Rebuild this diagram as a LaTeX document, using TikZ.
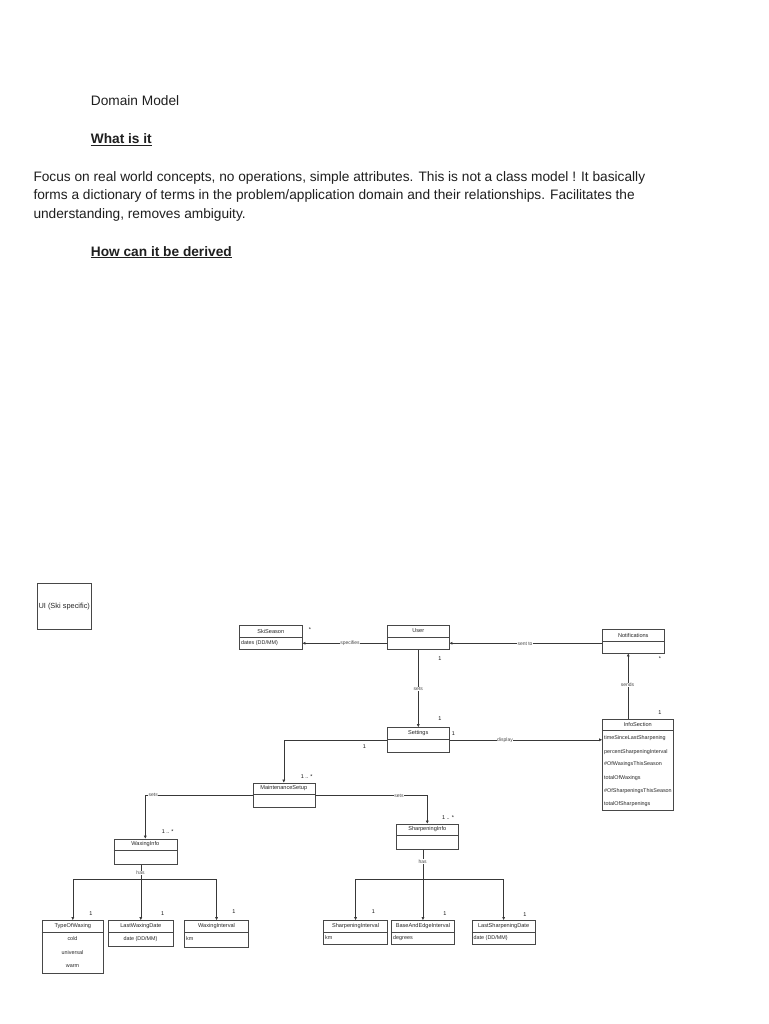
\documentclass[tikz,border=0pt]{standalone}
\usepackage{fontspec}
\setmainfont{Liberation Sans}
\usetikzlibrary{arrows.meta}
\tikzset{
  classbox/.style={draw=black!72, line width=0.55pt, fill=white, inner sep=0pt, rectangle},
  divider/.style={draw=black!72, line width=0.55pt},
  conn/.style={draw=black!78, line width=0.55pt},
  arr/.style={conn, -{Triangle[length=2.8pt,width=2.6pt]}},
  titletext/.style={font=\fontsize{5.6}{6.5}\selectfont, inner sep=0pt, text=black!85},
  itemtext/.style={font=\fontsize{5.4}{6.5}\selectfont, inner sep=0pt, text=black!85},
  lbl/.style={font=\fontsize{5}{6}\selectfont, inner sep=0.6pt, fill=white, text=black!72},
  mult/.style={font=\fontsize{5.5}{6.5}\selectfont, inner sep=0pt, text=black!92},
  bodytext/.style={font=\fontsize{13.7}{18.5}\selectfont, inner sep=0pt, text=black!88},
  headtext/.style={font=\fontsize{13.7}{18.5}\selectfont\bfseries, inner sep=0pt, text=black!88},
  uline/.style={draw=black!88, line width=0.9pt},
}
% #1 header height, #2 name, #3 x, #4 y, #5 width, #6 height, #7 title
\newcommand\umlbox[7][12]{%
  \node[classbox, minimum width=#5pt, minimum height=#6pt, anchor=north west] (#2) at (#3,#4) {};
  \draw[divider] ([yshift=-#1pt]#2.north west) -- ([yshift=-#1pt]#2.north east);
  \node[titletext] (#2-t) at ([yshift=-0.5*#1pt]#2.north) {#7};
}
\begin{document}
\begin{tikzpicture}[x=1pt,y=-1pt]
\useasboundingbox (0,0) rectangle (768,1024);
\fill[white] (0,0) rectangle (768,1024);

% ---- text ----
\node[bodytext, anchor=base west] (h1) at (90.7,105.7) {Domain Model};
\node[headtext, anchor=base west] (h2) at (90.7,143.5) {What is it};
\draw[uline] ([yshift=-1.8pt]h2.base west) -- ([yshift=-1.8pt]h2.base east);
\node[bodytext, anchor=base west] (p1) at (33.3,181.5) {Focus on real world concepts, no operations, simple attributes. This is not a class model ! It basically};
\node[bodytext, anchor=base west] (p2) at (33.3,200) {forms a dictionary of terms in the problem/application domain and their relationships. Facilitates the};
\node[bodytext, anchor=base west] (p3) at (33.3,218.5) {understanding, removes ambiguity.};
\node[headtext, anchor=base west] (h3) at (90.7,256) {How can it be derived};
\draw[uline] ([yshift=-1.8pt]h3.base west) -- ([yshift=-1.8pt]h3.base east);

% ---- UI box ----
\node[classbox, minimum width=53.4pt, minimum height=46pt, anchor=north west] (ui) at (37.3,583.3) {};
\node[font=\fontsize{7.4}{8}\selectfont, inner sep=0pt, text=black!85] (ui-t) at (ui.center) {UI (Ski specific)};

% ---- classes ----
\umlbox{ski}{239}{625}{63}{24}{SkiSeason}
\umlbox{user}{387}{625}{62}{24}{User}
\umlbox{notif}{602}{629}{62}{24}{Notifications}
\umlbox{settings}{387}{727}{62}{25}{Settings}
\umlbox[11]{info}{602}{719}{71}{91}{InfoSection}
\umlbox{maint}{252.5}{782.5}{62}{24.5}{MaintenanceSetup}
\umlbox{wax}{113.5}{838.5}{63}{25.5}{WaxingInfo}
\umlbox{sharp}{396}{823.5}{62}{25.5}{SharpeningInfo}
\umlbox{typew}{41.7}{920}{61.6}{52.7}{TypeOfWaxing}
\umlbox{lastw}{108.3}{920}{64.4}{26}{LastWaxingDate}
\umlbox{waxint}{184.3}{920}{64}{27.3}{WaxingInterval}
\umlbox{sharpint}{323.3}{920}{64}{24.3}{SharpeningInterval}
\umlbox{edge}{391}{920}{63.3}{24.3}{BaseAndEdgeInterval}
\umlbox{lasts}{471.7}{920}{63.3}{24.3}{LastSharpeningDate}

% ---- attributes ----
\node[itemtext, anchor=west] (ski-a) at (241,643) {dates (DD/MM)};
\node[itemtext, anchor=west] (info-a1) at (604,738.3) {timeSinceLastSharpening};
\node[itemtext, anchor=west] (info-a2) at (604,751.7) {percentSharpeningInterval};
\node[itemtext, anchor=west] (info-a3) at (604,764.5) {\#OfWaxingsThisSeason};
\node[itemtext, anchor=west] (info-a4) at (604,777.7) {totalOfWaxings};
\node[itemtext, anchor=west] (info-a5) at (604,790.8) {\#OfSharpeningsThisSeason};
\node[itemtext, anchor=west] (info-a6) at (604,804.3) {totalOfSharpenings};
\node[itemtext] (typew-a1) at (72.5,939) {cold};
\node[itemtext] (typew-a2) at (72.5,952.5) {universal};
\node[itemtext] (typew-a3) at (72.5,966.5) {warm};
\node[itemtext] (lastw-a) at (140.5,939.5) {date (DD/MM)};
\node[itemtext, anchor=west] (waxint-a) at (186,938.5) {km};
\node[itemtext, anchor=west] (sharpint-a) at (325,938) {km};
\node[itemtext, anchor=west] (edge-a) at (393,938) {degrees};
\node[itemtext, anchor=west] (lasts-a) at (473.5,938) {date (DD/MM)};

% ---- connectors ----
\coordinate (userB) at ([yshift=-6pt]user.west);
\coordinate (userE) at ([yshift=-6pt]user.east);
\draw[arr] (userB) -- (userB -| ski.east);
\draw[arr] (notif.west |- userE) -- (userE);
\draw[arr] (user.south) -- (settings.north);
\draw[arr] (settings.west) -| (maint.north);
\draw[arr] (settings.east) -- (info.west |- settings.east);
\draw[arr] ([xshift=-9.5pt]info.north) -- ([xshift=-9.5pt]info.north |- notif.south);
\draw[arr] (maint.west) -| (wax.north);
\draw[arr] (maint.east) -| (sharp.north);

\coordinate (wy) at (0,879.3);
\coordinate (wbus) at (lastw.north |- wy);
\draw[arr] (lastw.north |- wax.south) -- (lastw.north);
\draw[arr] (wbus) -| (typew.north);
\draw[arr] (wbus) -| (waxint.north);

\coordinate (sbus) at (edge.north |- wy);
\draw[arr] (edge.north |- sharp.south) -- (edge.north);
\draw[arr] (sbus) -| (sharpint.north);
\draw[arr] (sbus) -| (lasts.north);

% ---- connector labels ----
\node[lbl] (l-spec) at (350,643.5) {specifies};
\node[lbl] (l-sent) at (525,643.5) {sent to};
\node[lbl] (l-sets1) at (418.3,689) {sets};
\node[lbl] (l-disp) at (505,740.5) {display};
\node[lbl] (l-sends) at (627.5,685) {sends};
\node[lbl] (l-sets2) at (153.3,794.8) {sets};
\node[lbl] (l-sets3) at (399,796) {sets};
\node[lbl] (l-has1) at (140.5,873) {has};
\node[lbl] (l-has2) at (422.7,861.7) {has};

% ---- multiplicities ----
\node[mult] (m1) at (310,630) {*};
\node[mult] (m2) at (440,659) {1};
\node[mult] (m3) at (440,719) {1};
\node[mult] (m4) at (660,659) {*};
\node[mult] (m5) at (660,713) {1};
\node[mult] (m6) at (453.5,733.5) {1};
\node[mult] (m7) at (364.5,746.7) {1};
\node[mult] (m8) at (306.7,776.7) {1 .. *};
\node[mult] (m9) at (167.7,831.7) {1 .. *};
\node[mult] (m10) at (448,817.3) {1 .. *};
\node[mult] (m11) at (91,913.3) {1};
\node[mult] (m12) at (162.7,913.3) {1};
\node[mult] (m13) at (234,912) {1};
\node[mult] (m14) at (373.3,911.7) {1};
\node[mult] (m15) at (445,914) {1};
\node[mult] (m16) at (525,915) {1};
\end{tikzpicture}
\end{document}
